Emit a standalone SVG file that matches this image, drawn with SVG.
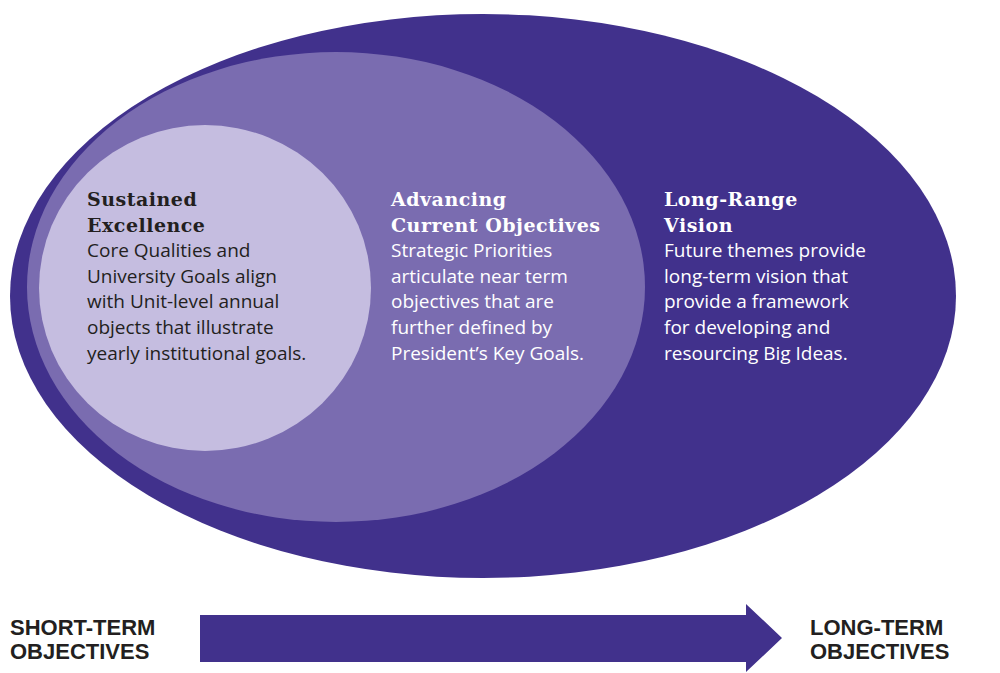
<svg xmlns="http://www.w3.org/2000/svg" width="1000" height="673" viewBox="0 0 1000 673">
<style>
.t{font-family:"DejaVu Serif",serif;font-weight:bold;font-size:19px;letter-spacing:0.5px}
.b{font-family:"Open Sans","Liberation Sans",sans-serif;font-size:19px}
.w{fill:#ffffff}.d{fill:#231f20}
.lab{font-family:"Liberation Sans",Arial,sans-serif;font-weight:bold;font-size:22px;fill:#231f20}
</style>
<rect width="1000" height="673" fill="#ffffff"/>
<g id="outer"><ellipse cx="483" cy="296" rx="473" ry="282" fill="#41318c"/>
<text class="t w" x="664" y="206">Long-Range</text><text class="t w" x="664" y="232">Vision</text>
<text class="b w" x="664" y="257">Future themes provide</text><text class="b w" x="664" y="283">long-term vision that</text><text class="b w" x="664" y="308">provide a framework</text><text class="b w" x="664" y="334">for developing and</text><text class="b w" x="664" y="360">resourcing Big Ideas.</text></g>
<g id="middle"><ellipse cx="336" cy="287" rx="309" ry="235" fill="#7a6cb0"/>
<text class="t w" x="391" y="206">Advancing</text><text class="t w" x="391" y="232">Current Objectives</text>
<text class="b w" x="391" y="257">Strategic Priorities</text><text class="b w" x="391" y="283">articulate near term</text><text class="b w" x="391" y="308">objectives that are</text><text class="b w" x="391" y="334">further defined by</text><text class="b w" x="391" y="360">President’s Key Goals.</text></g>
<g id="inner"><ellipse cx="205" cy="288" rx="166" ry="163" fill="#c5bde0"/>
<text class="t d" x="87" y="206">Sustained</text><text class="t d" x="87" y="232">Excellence</text>
<text class="b d" x="87" y="257">Core Qualities and</text><text class="b d" x="87" y="283">University Goals align</text><text class="b d" x="87" y="308">with Unit-level annual</text><text class="b d" x="87" y="334">objects that illustrate</text><text class="b d" x="87" y="360">yearly institutional goals.</text></g>
<g id="connectors"><polygon points="200,615 746,615 746,604 782,638 746,672 746,662 200,662" fill="#41318c"/></g>
<g id="short"><text class="lab" x="10" y="635">SHORT-TERM</text><text class="lab" x="10" y="659">OBJECTIVES</text></g>
<g id="long"><text class="lab" x="810" y="635">LONG-TERM</text><text class="lab" x="810" y="659">OBJECTIVES</text></g>
</svg>
